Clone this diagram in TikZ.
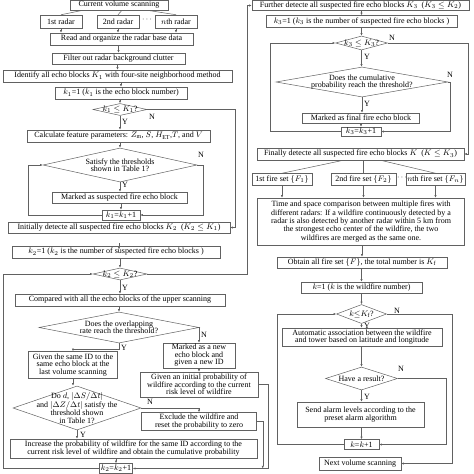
\documentclass[tikz,border=0pt]{standalone}
\usepackage{fontspec}
\setmainfont{Liberation Serif}
\usepackage{amssymb}
\usepackage{tikz}
\usetikzlibrary{shapes.geometric}
\usetikzlibrary{arrows.meta}
\definecolor{linec}{gray}{0.38}
\newcommand{\fs}{\fontsize{8}{7.5}\selectfont}
\tikzset{
  blk/.style={draw=linec, line width=0.5pt, inner xsep=1.5pt, inner ysep=0pt, align=center, font=\fs},
  ask/.style={diamond, draw=linec, line width=0.5pt, inner sep=-6pt, align=center, font=\fs},
  flow/.style={draw=linec, line width=0.5pt, -{Latex[length=2.6pt,width=2.2pt]}},
  link/.style={draw=linec, line width=0.5pt},
  yn/.style={font=\fs, inner sep=0pt}
}
\begin{document}
\begin{tikzpicture}[x=1pt, y=-1pt]
	\useasboundingbox (0,0) rectangle (474,474);
	% left column
	\node[blk, minimum width=98, minimum height=10] (scan) at (119,5) {Current volume scanning};
	\node[blk, minimum width=42, minimum height=13] (r1) at (61,21.5) {1st radar};
	\node[blk, minimum width=42, minimum height=13] (r2) at (118,21.5) {2nd radar};
	\node[yn] (rdots) at (147,20) {$\cdots$};
	\node[blk, minimum width=42, minimum height=13] (rn) at (176,21.5) {$n$th radar};
	\node[blk, minimum width=143, minimum height=12] (read) at (121.5,39) {Read and organize the radar base data};
	\node[blk, minimum width=133, minimum height=11] (filt) at (118.5,58.5) {Filter out radar background clutter};
	\node[blk, minimum width=229, minimum height=12] (ident) at (117.5,76) {Identify all echo blocks $K_1$ with four-site neighborhood method};
	\node[blk, minimum width=132, minimum height=12] (kone) at (121,93) {$k_1$=1 ($k_1$ is the echo block number)};
	\node[ask, aspect=4.5, minimum width=54, minimum height=12] (dkone) at (120,109.5) {$k_1\le K_1$?};
	\node[blk, minimum width=183, minimum height=12] (calc) at (118.5,136) {Calculate feature parameters: $Z_{\rm m}$, $S$, $H_{\rm ET}$,$T$, and $V$};
	\node[ask, aspect=4.5, minimum width=154, minimum height=34] (dsat) at (120,165) {Satisfy the thresholds\\shown in Table 1?};
	\node[blk, minimum width=135, minimum height=11] (mark1) at (119.5,197.5) {Marked as suspected fire echo block};
	\node[blk, minimum width=38, minimum height=10] (kinc1) at (121,215) {$k_1$=$k_1$+1};
	\node[blk, minimum width=222, minimum height=11] (init) at (119,227.5) {Initially detecte all suspected fire echo blocks $K_2$~ ($K_2\le K_1$)};
	\node[blk, minimum width=208, minimum height=12] (ktwo) at (116,252) {$k_2$=1 ($k_2$ is the number of suspected fire echo blocks )};
	\node[ask, aspect=4.5, minimum width=54, minimum height=12] (dktwo) at (120,274) {$k_2\le K_2$?};
	\node[blk, minimum width=210, minimum height=12] (comp) at (120,300) {Compared with all the echo blocks of the upper scanning};
	\node[ask, aspect=5.2, minimum width=160, minimum height=31] (dover) at (119,327.5) {Does the overlapping\\rate reach the threshold?};
	\node[blk, minimum width=89, minimum height=27] (same) at (73,365) {Given the same ID to the\\same echo block at the\\last volume scanning};
	\node[blk, minimum width=72, minimum height=25] (newid) at (199,355.5) {Marked as a new\\echo block and\\given a new ID};
	\node[blk, minimum width=118, minimum height=25] (initp) at (199,384.5) {Given an initial probability of\\wildfire according to the current\\risk level of wildfire};
	\node[ask, aspect=2.9, minimum width=128, minimum height=44] (ddo) at (77,408) {Do $d$, $|\Delta S/\Delta t|$\\and $|\Delta Z/\Delta t|$ satisfy the\\threshold shown\\in Table 1?};
	\node[blk, minimum width=115, minimum height=18] (excl) at (199,421.5) {Exclude the wildfire and\\reset the probability to zero};
	\node[blk, minimum width=247, minimum height=19] (incr) at (133.5,448.5) {Increase the probability of wildfire for the same ID according to the\\current risk level of wildfire and obtain the cumulative probability};
	\node[blk, minimum width=32, minimum height=10] (kinc2) at (116,468.5) {$k_2$=$k_2$+1};
	% right column
	\node[blk, minimum width=217, minimum height=10] (furt) at (360.5,5.5) {Further detecte all suspected fire echo blocks $K_3$~ ($K_3\le K_2$)};
	\node[blk, minimum width=191, minimum height=12] (kthree) at (361.5,21.5) {$k_3$=1 ($k_3$ is the number of suspected fire echo blocks )};
	\node[ask, aspect=3.7, minimum width=52, minimum height=14] (dkthree) at (361.5,43) {$k_3\le K_3$?};
	\node[ask, aspect=5.7, minimum width=172, minimum height=30] (dcum) at (362,82) {Does the cumulative\\probability reach the threshold?};
	\node[blk, minimum width=117, minimum height=10] (final) at (361,118) {Marked as final fire echo block};
	\node[blk, minimum width=40, minimum height=9] (kinc3) at (361,131.5) {$k_3$=$k_3$+1};
	\node[blk, minimum width=207, minimum height=12] (fin) at (360.5,154) {Finally detecte all suspected fire echo blocks $K$~ ($K\le K_3$)};
	\node[blk, minimum width=60, minimum height=12] (f1) at (282,179.5) {1st fire set $\{F_1\}$};
	\node[blk, minimum width=65, minimum height=12] (f2) at (363.5,179.5) {2nd fire set $\{F_2\}$};
	\node[yn] (fdots) at (402,178) {$\cdots$};
	\node[blk, minimum width=57, minimum height=12] (fn) at (435.5,179.5) {$n$th fire set $\{F_n\}$};
	\node[blk, minimum width=207, minimum height=47, font=\fontsize{8}{8.4}\selectfont] (merge) at (361,221.5) {Time and space comparison between multiple fires with\\different radars: If a wildfire continuously detected by a\\radar is also detected by another radar within 5 km from\\the strongest echo center of the wildfire, the two\\wildfires are merged as the same one.};
	\node[blk, minimum width=170, minimum height=11] (obt) at (362,262.5) {Obtain all fire set $\{F\}$, the total number is $K_{\rm f}$};
	\node[blk, minimum width=121, minimum height=11] (kk) at (361.5,287.5) {$k$=1 ($k$ is the wildfire number)};
	\node[ask, aspect=2.6, minimum width=50, minimum height=19] (dk) at (361.5,314) {$k$$\le$$K_{\rm f}$?};
	\node[blk, minimum width=160, minimum height=18] (assoc) at (362,337) {Automatic association between the wildfire\\and tower based on latitude and longitude};
	\node[ask, aspect=3.1, minimum width=72, minimum height=23] (dres) at (361.5,378.5) {Have a result?};
	\node[blk, minimum width=127, minimum height=25] (alarm) at (360.5,414.5) {Send alarm levels according to the\\preset alarm algorithm};
	\node[blk, minimum width=35, minimum height=10] (kinc) at (361.5,444.5) {$k$=$k$+1};
	\node[blk, minimum width=82, minimum height=13] (next) at (360,463.5) {Next volume scanning};
	%
	\node[yn] (n1) at (152,117) {N};
	\node[yn] (y1) at (125,122) {Y};
	\node[yn] (n2) at (201,155) {N};
	\node[yn] (y2) at (125,185) {Y};
	\node[yn] (y3) at (125,287.5) {Y};
	\node[yn] (n4) at (204,335) {N};
	\node[yn] (y4) at (124,348) {Y};
	\node[yn] (n5) at (150,402) {N};
	\node[yn] (y5) at (83,435) {Y};
	\node[yn] (n6) at (392,38) {N};
	\node[yn] (y6) at (367,57) {Y};
	\node[yn] (n7) at (450,75) {N};
	\node[yn] (y7) at (367,104) {Y};
	\node[yn] (n8) at (397,311) {N};
	\node[yn] (y8) at (367,326) {Y};
	\node[yn] (n9) at (401,369) {N};
	\node[yn] (y9) at (367,397) {Y};
	% left connectors
	\draw[link] ([xshift=-36pt]scan.south) -- (r1.north);
	\draw[link] ([xshift=3pt]scan.south) -- (r2.north);
	\draw[link] ([xshift=28pt]scan.south) -- (rn.north);
	\draw[flow] (r1.south) -- (r1.south |- read.north);
	\draw[flow] (r2.south) -- (r2.south |- read.north);
	\draw[flow] (rn.south) -- (rn.south |- read.north);
	\draw[flow] (read.south -| filt.north) -- (filt.north);
	\draw[flow] (filt.south -| ident.north) -- (ident.north);
	\draw[flow] (kone.north |- ident.south) -- (kone.north);
	\draw[flow] (dkone.north |- kone.south) -- (dkone.north);
	\draw[flow] (dkone.south) -- (dkone.south |- calc.north);
	\draw[flow] (dsat.north |- calc.south) -- (dsat.north);
	\draw[flow] (dsat.south) -- (dsat.south |- mark1.north);
	\draw[flow] (kinc1.north |- mark1.south) -- (kinc1.north);
	\draw[flow] (dkone.east) -- ++(88,0) |- (init.east);
	\draw[flow] (dsat.east) -- ++(6,0) |- (kinc1.east);
	\draw[flow] (kinc1.west) -- ++(-74,0) |- (dsat.west);
	\draw[flow] (ktwo.north -| init.south) -- (init.south |- ktwo.north);
	\draw[flow] (dktwo.north |- ktwo.south) -- (dktwo.north);
	\draw[flow] (dktwo.south) -- (dktwo.south |- comp.north);
	\draw[flow] (dover.north |- comp.south) -- (dover.north);
	\draw[flow] (dover.south) -- ++(0,6) -| (same.north);
	\draw[flow] (dover.east) -| (newid.north);
	\draw[flow] (newid.south) -- (newid.south |- initp.north);
	\draw[flow] (same.south) -- (same.south |- ddo.north);
	\draw[flow] (ddo.east) -| (excl.north);
	\draw[flow] (ddo.south) -- (ddo.south |- incr.north);
	\draw[flow] (kinc2.north |- incr.south) -- (kinc2.north);
	\draw[flow] (initp.east) -- ++(10,0) |- (kinc2.east);
	\draw[flow] (excl.east) -- ++(6,0) coordinate (e1) -- (e1 |- kinc2.east);
	\draw[flow] (kinc2.west) -- ++(-96,0) |- (dktwo.west);
	\draw[flow] (dktwo.east) -- ++(100,0) |- (furt.west);
	% right connectors
	\draw[flow] (kthree.north |- furt.south) -- (kthree.north);
	\draw[flow] (dkthree.north |- kthree.south) -- (dkthree.north);
	\draw[flow] (dkthree.south) -- (dkthree.south |- dcum.north);
	\draw[flow] (dcum.south) -- (dcum.south |- final.north);
	\draw[flow] (kinc3.north |- final.south) -- (kinc3.north);
	\draw[flow] (dkthree.east) -- ++(80.5,0) |- (fin.east);
	\draw[flow] (dcum.east) -- ++(2,0) |- (kinc3.east);
	\draw[flow] (kinc3.west) -- ++(-71,0) |- (dkthree.west);
	\draw[link] ([xshift=-17pt]fin.south) -- (f1.north);
	\draw[link] ([xshift=3pt]fin.south) -- (f2.north);
	\draw[link] ([xshift=20pt]fin.south) -- (fn.north);
	\draw[flow] (f1.south) -- (f1.south |- merge.north);
	\draw[flow] (f2.south) -- (f2.south |- merge.north);
	\draw[flow] (fn.south) -- (fn.south |- merge.north);
	\draw[flow] (obt.north |- merge.south) -- (obt.north);
	\draw[flow] (kk.north |- obt.south) -- (kk.north);
	\draw[flow] (dk.north |- kk.south) -- (dk.north);
	\draw[flow] (dk.south) -- (dk.south |- assoc.north);
	\draw[flow] (dres.north |- assoc.south) -- (dres.north);
	\draw[flow] (dres.south) -- (dres.south |- alarm.north);
	\draw[flow] (kinc.north |- alarm.south) -- (kinc.north);
	\draw[flow] (dk.east) -- ++(65.5,0) |- (next.east);
	\draw[flow] (dres.east) -- ++(48.5,0) |- (kinc.east);
	\draw[flow] (kinc.west) -- ++(-67,0) |- (dk.west);
\end{tikzpicture}
\end{document}
